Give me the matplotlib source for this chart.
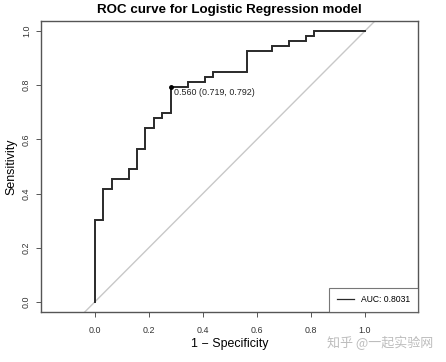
import matplotlib
matplotlib.use("Agg")
import matplotlib.pyplot as plt
import numpy as np

# ROC staircase vertices (1 - specificity, sensitivity)
fpr = [0.0, 0.0, 0.03125, 0.03125, 0.0625, 0.0625, 0.125, 0.125, 0.15625, 0.15625,
       0.1875, 0.1875, 0.21875, 0.21875, 0.25, 0.25, 0.28125, 0.28125, 0.34375, 0.34375,
       0.40625, 0.40625, 0.4375, 0.4375, 0.5625, 0.5625, 0.65625, 0.65625, 0.71875, 0.71875,
       0.78125, 0.78125, 0.8125, 0.8125, 1.0]
tpr = [0.0, 0.3019, 0.3019, 0.4151, 0.4151, 0.4528, 0.4528, 0.4906, 0.4906, 0.5660,
       0.5660, 0.6415, 0.6415, 0.6792, 0.6792, 0.6981, 0.6981, 0.7925, 0.7925, 0.8113,
       0.8113, 0.8302, 0.8302, 0.8491, 0.8491, 0.9245, 0.9245, 0.9434, 0.9434, 0.9623,
       0.9623, 0.9811, 0.9811, 1.0, 1.0]
best_fpr = 0.28125
best_tpr = 0.792
best_label = "0.560 (0.719, 0.792)"
auc_label = "AUC: 0.8031"
xticks = [0.0, 0.2, 0.4, 0.6, 0.8, 1.0]
yticks = [0.0, 0.2, 0.4, 0.6, 0.8, 1.0]

plt.rcParams['font.family'] = ['Liberation Sans', 'DejaVu Sans']

fig = plt.figure(figsize=(4.46, 3.62), dpi=100)
ax = fig.add_axes([0.0919, 0.1381, 0.937 - 0.0919, 0.9428 - 0.1381])

xlim = (-0.199, 1.196)
ylim = (-0.037, 1.038)
ax.set_xlim(*xlim)
ax.set_ylim(*ylim)

# diagonal reference line y = x
ax.axline((0, 0), slope=1, color='#c8c8c8', lw=1.0, zorder=1)

ax.plot(fpr, tpr, color='#2a2a2a', lw=1.4, zorder=3, solid_joinstyle='miter')
ax.plot([best_fpr], [best_tpr], 'o', color='black', ms=2.5, zorder=4)
ax.text(best_fpr + 0.012, best_tpr - 0.002, best_label, fontsize=6.4,
        va='top', ha='left', color='#222222')

ax.set_xticks(xticks)
ax.set_yticks(yticks)
ax.set_xticklabels([f"{v:.1f}" for v in xticks], fontsize=6.4, color='#333333')
ax.set_yticklabels([f"{v:.1f}" for v in yticks], fontsize=6.4, color='#333333',
                   rotation=90, va='center')
ax.tick_params(axis='both', length=3.8, width=0.7, color='#555555')
ax.tick_params(axis='x', pad=6.5)
ax.tick_params(axis='y', pad=3.5)

for s in ax.spines.values():
    s.set_color('#555555')
    s.set_linewidth(1.0)

ax.set_xlabel("1 − Specificity", fontsize=8.9, labelpad=2)
ax.set_ylabel("Sensitivity", fontsize=8.9, labelpad=3)
ax.set_title("ROC curve for Logistic Regression model", fontsize=9.6,
             fontweight='bold', pad=5.5)

leg = ax.legend([plt.Line2D([], [], color='#2a2a2a', lw=0.9)], [auc_label],
                loc='lower right', fontsize=6.2, frameon=True, fancybox=False,
                borderaxespad=0, handlelength=2.0, borderpad=0.9, handletextpad=0.8)
leg.get_frame().set_edgecolor('#555555')
leg.get_frame().set_linewidth(0.8)

fig.text(433 / 446, 1 - 343 / 362, "知乎 @一起实验网", fontsize=9.4,
         color='#bdbdbd', ha='right', va='center',
         family=['Noto Sans CJK SC', 'DejaVu Sans'])

fig.savefig("out.png", dpi=100, facecolor='white')
